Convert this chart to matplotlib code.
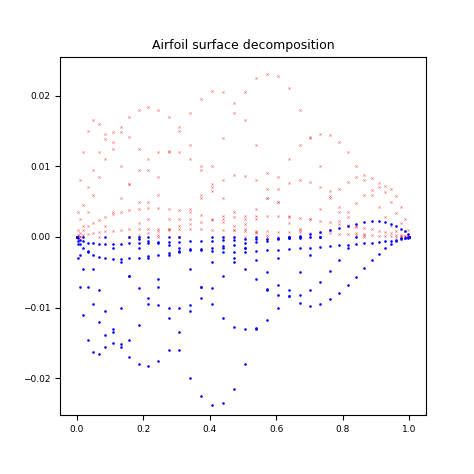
import matplotlib
matplotlib.use("Agg")
import matplotlib.pyplot as plt

# shared chordwise stations (read from the vertical columns of points)
x_grid = [0.000, 0.003, 0.010, 0.020, 0.033, 0.048, 0.066, 0.086, 0.108, 0.132,
          0.158, 0.186, 0.215, 0.245, 0.276, 0.308, 0.340, 0.373, 0.406, 0.440,
          0.473, 0.506, 0.540, 0.573, 0.606, 0.638, 0.670, 0.701, 0.731, 0.760,
          0.788, 0.815, 0.840, 0.864, 0.886, 0.907, 0.926, 0.944, 0.960, 0.974,
          0.986, 0.995, 1.000]

# upper components, (start index, values x1e-3)
upper_a = (0, [0, 3.5, 8, 12, 15, 16.5, 16, 14.5, 12.5, 10, 7.5, 5, 2.5, 0.3])
upper_g = (0, [0, 1, 2.5, 4.5, 7, 9.5, 12, 13.8, 14.8, 14.9, 14.2, 12.5, 9.5, 6, 2.5, 0])
upper_b = (2, [0, 1.5, 3.5, 6, 8.5, 11, 13.5, 15.5, 17, 18, 18.4, 18, 17, 15.5, 13, 10, 6.5, 3, 0])
upper_h = (6, [0, 1.5, 3.5, 5.5, 7.5, 9.5, 11, 12, 12.2, 12, 11, 9.5, 7.5, 5.5, 3.5, 1.8, 0.5, 0])
upper_c = (10, [0, 2, 5, 8.5, 12, 15, 17.5, 19.5, 20.7, 20.5, 19, 16.5, 13, 9, 5, 2, 0])
upper_i = (13, [0, 1, 2.5, 4, 5.5, 7, 8, 8.7, 8.6, 8, 6.8, 5, 3, 1.2, 0])
upper_d = (15, [0, 2.5, 6, 10, 14, 17.5, 20.5, 22.5, 23, 22.7, 21, 18, 14, 10, 6.5, 3.5, 1.5, 0.5, 0])
upper_k = (19, [0, 1, 2.5, 4, 5.5, 6.8, 7.6, 8, 7.8, 7, 5.8, 4.3, 2.8, 1.4, 0.4])
upper_e = (21, [0, 2.5, 5.5, 8.5, 11, 13, 14.2, 14.6, 14.4, 13.5, 12, 10, 8, 6, 4.3, 2.8, 1.6, 0.8, 0.3, 0.1, 0, 0])
upper_j = (25, [0, 1, 2.5, 4, 5.5, 6.8, 7.8, 8.5, 8.7, 8.4, 7.6, 6.4, 5, 3.4, 2, 0.9, 0.3, 0])
upper_f = (28, [0, 1, 2.2, 3.5, 4.8, 5.9, 6.7, 7.1, 7.2, 6.8, 5.8, 4.3, 2.6, 1, 0])
upper_s1 = (0, [0, 0.3, 0.6, 1, 1.5, 2, 2.4, 2.8, 3.2, 3.5, 3.8, 4, 4.1, 4.1, 4, 3.8, 3.5,
                3.1, 2.6, 2.1, 1.6, 1.1, 0.7, 0.3, 0])
upper_s2 = (10, [0, 0.3, 0.6, 0.9, 1.2, 1.5, 1.8, 2.1, 2.4, 2.6, 2.8, 2.95, 3, 3, 2.95, 2.85,
                 2.7, 2.5, 2.3, 2.1, 1.9, 1.7, 1.5, 1.3, 1.1, 0.9, 0.7, 0.5, 0.35, 0.2, 0.1, 0.05, 0])
upper_s3 = (0, [0, 0.1, 0.2, 0.3, 0.45, 0.6, 0.7, 0.8, 0.9, 1, 1.1, 1.15, 1.2, 1.2, 1.2, 1.2,
                1.15, 1.1, 1.05, 1, 0.95, 0.9, 0.85, 0.8, 0.75, 0.7, 0.65, 0.6, 0.55, 0.5,
                0.45, 0.4, 0.35, 0.3, 0.25, 0.2, 0.15, 0.1, 0.07, 0.04, 0.02, 0.01, 0])

# lower components
lower_1 = (0, [0, -3, -7, -11, -14.5, -16.3, -16.5, -15.5, -13.5, -10, -5.5, -1.5, 0])
lower_6 = (0, [0, -1, -2.5, -4.5, -7, -9.5, -12, -13.8, -15, -15.2, -14.5, -12.5, -9.5, -6, -2.5, 0])
lower_2 = (3, [0, -2, -4.5, -7.5, -10.5, -13, -15.5, -17, -18, -18.2, -17.5, -16, -13.5, -10.5, -7, -3.5, 0])
lower_7 = (7, [0, -1.5, -3.5, -5.5, -7.2, -8.6, -9.6, -10, -10, -9.6, -8.6, -7.2, -5.5, -3.5, -1.5, 0])
lower_3 = (11, [0, -3, -7, -11.5, -16, -20, -22.5, -23.7, -23.5, -21.5, -18, -13, -7.5, -3, 0])
lower_4 = (14, [0, -2, -4.5, -7, -9.5, -11.5, -12.7, -13, -12.8, -11.8, -10, -7.5, -5, -2.5, 0])
lower_8 = (18, [0, -1.5, -3, -4.5, -6, -7.3, -8.2, -8.4, -8.2, -7.5, -6.3, -4.8, -3.2, -1.6, 0])
lower_5 = (20, [0, -1.5, -3.2, -5, -6.8, -8.3, -9.4, -9.7, -9.5, -8.8, -7.9, -6.8, -5.6, -4.4,
                -3.3, -2.4, -1.6, -1, -0.5, -0.2, -0.1, 0, 0])
lower_10 = (25, [0, 0.2, 0.4, 0.7, 1, 1.3, 1.6, 1.9, 2.1, 2.2, 2.2, 2.1, 1.9, 1.6, 1.2, 0.8, 0.4, 0])
lower_s1 = (0, [0, -0.5, -1, -1.6, -2.1, -2.5, -2.8, -3, -3.1, -3.1, -3, -2.9, -2.7, -2.5, -2.3,
                -2.1, -1.9, -1.7, -1.5, -1.3, -1.1, -0.9, -0.7, -0.5, -0.3, -0.15, 0])
lower_s2 = (10, [0, -0.3, -0.6, -0.9, -1.2, -1.5, -1.7, -1.9, -2, -2.1, -2.1, -2.1, -2, -1.9,
                 -1.8, -1.7, -1.6, -1.5, -1.4, -1.3, -1.2, -1.1, -1, -0.9, -0.8, -0.7, -0.6,
                 -0.5, -0.4, -0.3, -0.2, -0.1, 0])
lower_s3 = (0, [0, -0.2, -0.4, -0.6, -0.8, -0.9, -1, -1, -1, -0.95, -0.9, -0.85, -0.8, -0.75,
                -0.7, -0.65, -0.6, -0.55, -0.5, -0.45, -0.4, -0.35, -0.3, -0.25, -0.2, -0.15,
                -0.1, -0.05, 0])

upper_parts = [upper_a, upper_g, upper_b, upper_h, upper_c, upper_i, upper_d, upper_k,
               upper_e, upper_j, upper_f, upper_s1, upper_s2, upper_s3]
lower_parts = [lower_1, lower_6, lower_2, lower_7, lower_3, lower_4, lower_8, lower_5,
               lower_10, lower_s1, lower_s2, lower_s3]


def points(part):
    start, vals = part
    xs = x_grid[start:start + len(vals)]
    ys = [v * 1e-3 for v in vals[:len(xs)]]
    return xs, ys


fig = plt.figure(figsize=(4.74, 4.74), dpi=100)
ax = fig.add_axes([0.127, 0.124, 0.772, 0.755])
for part in upper_parts:
    xs, ys = points(part)
    ax.scatter(xs, ys, marker="x", s=2.5, c="red", linewidths=0.4, alpha=0.6)
for part in lower_parts:
    xs, ys = points(part)
    ax.scatter(xs, ys, marker="o", s=3.5, c="blue", linewidths=0)
ax.set_xlim(-0.05, 1.05)
ax.set_ylim(-0.0252, 0.0254)
ax.set_yticks([-0.02, -0.01, 0.0, 0.01, 0.02])
ax.tick_params(labelsize=6.5)
ax.set_title("Airfoil surface decomposition", fontsize=9)
fig.savefig("out.png", dpi=100)
